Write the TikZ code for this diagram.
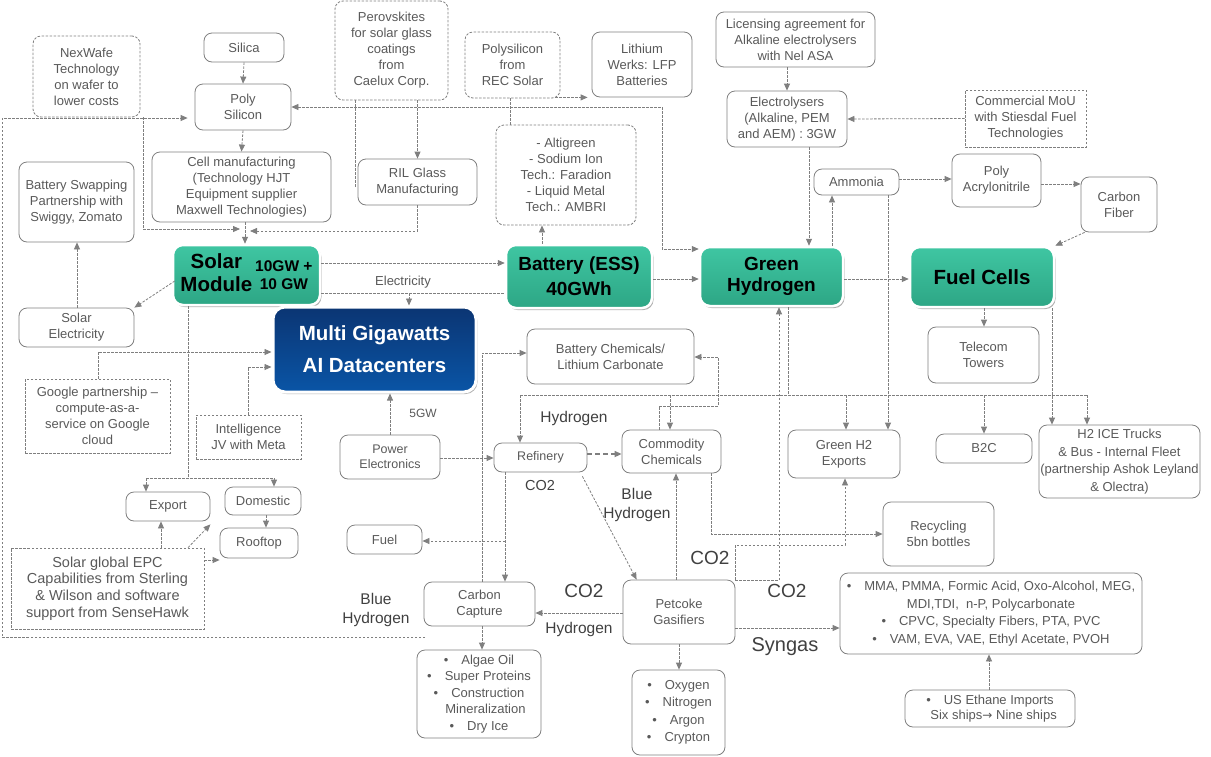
\documentclass[tikz,border=0pt]{standalone}
\usepackage{fontspec}
\setmainfont{Liberation Sans}
\newfontfamily\arrfont{DejaVu Sans}
\usetikzlibrary{arrows.meta,shadows}
\definecolor{bordc}{HTML}{7F7F7F}
\definecolor{txtc}{HTML}{595959}
\definecolor{lblc}{HTML}{404040}
\definecolor{lnc}{HTML}{7F7F7F}
\definecolor{gtop}{HTML}{3FC6A2}
\definecolor{gbot}{HTML}{2DA685}
\definecolor{btop}{HTML}{0B3573}
\definecolor{bbot}{HTML}{0A55A6}
\newcommand\fA{\fontsize{13}{16}\selectfont}
\newcommand\fE{\fontsize{14.5}{16.8}\selectfont}
\newcommand\fL{\fontsize{15.5}{19}\selectfont}
\newcommand\fC{\fontsize{19}{22}\selectfont}
\begin{document}
\begin{tikzpicture}[x=1pt,y=-1pt,
  sz/.style 2 args={minimum width=#1pt, minimum height=#2pt},
  box/.style={draw=bordc, line width=0.8pt, rounded corners=8pt, text=txtc, align=center, inner sep=0pt, font=\fA},
  dbox/.style={box, dash pattern=on 2.5pt off 1.5pt},
  rbox/.style={dbox, rounded corners=0pt},
  gbox/.style={draw=white, line width=2.5pt, rounded corners=10pt, top color=gtop, bottom color=gbot,
     drop shadow={shadow xshift=1.5pt, shadow yshift=-2pt, opacity=0.3, fill=black},
     align=center, inner sep=0pt, text=black},
  bluebox/.style={draw=white, line width=3pt, rounded corners=12pt, top color=btop, bottom color=bbot,
     drop shadow={shadow xshift=1.5pt, shadow yshift=-2pt, opacity=0.3, fill=black},
     align=center, inner sep=0pt, text=white},
  lbl/.style={text=lblc, align=center, inner sep=0pt},
  conn/.style={draw=lnc, line width=0.8pt, dash pattern=on 2.5pt off 1.5pt, -{Triangle[length=7pt,width=6pt]}},
  conntwo/.style={conn, {Triangle[length=7pt,width=6pt]}-{Triangle[length=7pt,width=6pt]}},
  dline/.style={draw=lnc, line width=0.8pt, dash pattern=on 2.5pt off 1.5pt},
  thickconn/.style={draw=lnc, line width=1.6pt, dash pattern=on 5pt off 3pt, -{Triangle[length=7pt,width=6pt]}}
]
\useasboundingbox (0,0) rectangle (1211,756);

% ---------- top area ----------
\node[dbox, sz={107}{81}] (nexwafe) at (86.5,76.5) {NexWafe\\Technology\\on wafer to\\lower costs};
\node[box, sz={80}{29}] (silica) at (244,47.5) {Silica};
\node[box, sz={96}{46}] (polysi) at (243,107) {Poly\\Silicon};
\node[box, sz={179}{70}] (cell) at (241.5,187) {Cell manufacturing\\(Technology HJT\\Equipment supplier\\Maxwell Technologies)};
\node[box, sz={115}{80}] (swap) at (76.5,202) {Battery Swapping\\Partnership with\\Swiggy, Zomato};
\node[dbox, sz={113}{99}] (perov) at (391.5,50.5) {Perovskites\\for solar glass\\coatings\\from\\Caelux Corp.};
\node[dbox, sz={95}{66}] (rec) at (512.5,65) {Polysilicon\\from\\REC Solar};
\node[box, sz={100}{65}] (lithium) at (642,64.5) {Lithium\\Werks: LFP\\Batteries};
\node[box, sz={119}{46}] (ril) at (417.5,182) {RIL Glass\\Manufacturing};
\node[dbox, sz={140}{100}] (alti) at (566,175) {- Altigreen\\- Sodium Ion\\Tech.: Faradion\\- Liquid Metal\\Tech.: AMBRI};
\node[box, sz={159}{55}] (lic) at (795.5,39.5) {Licensing agreement for\\Alkaline electrolysers\\with Nel ASA};
\node[box, sz={120}{56}] (elec) at (787,119) {Electrolysers\\(Alkaline, PEM\\and AEM) : 3GW};
\node[rbox, sz={121}{57}] (mou) at (1025.5,118.5) {Commercial MoU\\with Stiesdal Fuel\\Technologies};
\node[box, sz={85}{26}] (ammonia) at (856.5,182) {Ammonia};
\node[box, sz={89}{53}] (pan) at (996.5,180.5) {Poly\\Acrylonitrile};
\node[box, sz={76}{55}] (cfiber) at (1119,204.5) {Carbon\\Fiber};

% ---------- main row ----------
\node[gbox, sz={147}{60}] (solar) at (246.5,275) {\bfseries\fontsize{20.5}{23}\selectfont\begin{tabular}{@{}c@{}}Solar\\Module\end{tabular}\hspace{3pt}\fontsize{15.5}{18}\selectfont\begin{tabular}{@{}c@{}}10GW +\\10 GW\end{tabular}};
\node[gbox, sz={146}{63}, font=\bfseries\fontsize{19}{25}\selectfont] (battery) at (579,276.5) {Battery (ESS)\\40GWh};
\node[gbox, sz={143}{59}, font=\bfseries\fontsize{19}{21}\selectfont] (greenh) at (771.5,276.5) {Green\\Hydrogen};
\node[gbox, sz={144}{60}, font=\bfseries\fontsize{20.5}{24}\selectfont] (fuelc) at (982,277) {Fuel Cells};
\node[bluebox, sz={203}{85}, font=\bfseries\fontsize{20.5}{32}\selectfont] (dc) at (374.5,349.5) {Multi Gigawatts\\AI Datacenters};

% ---------- middle ----------
\node[box, sz={115}{39}] (solarel) at (76.5,327.5) {Solar\\Electricity};
\node[rbox, sz={145}{74}] (google) at (97.5,416) {Google partnership –\\compute-as-a-\\service on Google\\cloud};
\node[rbox, sz={105}{44}] (meta) at (248.5,437) {Intelligence\\JV with Meta};
\node[box, sz={167}{55}] (batchem) at (610.5,356.5) {Battery Chemicals/\\Lithium Carbonate};
\node[box, sz={111}{56}] (telecom) at (983.5,355) {Telecom\\Towers};
\node[box, sz={100}{44}, font=\fontsize{12.5}{15.5}\selectfont] (power) at (390,457) {Power\\Electronics};
\node[box, sz={93}{29}, font=\fontsize{12.5}{15.5}\selectfont] (refinery) at (540.5,457.5) {Refinery};
\node[box, sz={99}{43}] (commod) at (671.5,451.5) {Commodity\\Chemicals};
\node[box, sz={112}{48}] (gh2exp) at (844,454) {Green H2\\Exports};
\node[box, sz={96}{29}] (b2c) at (984,448.5) {B2C};
\node[box, sz={161}{73}, font=\fontsize{13}{17.5}\selectfont] (h2ice) at (1119.5,461.5) {H2 ICE Trucks\\ \& Bus - Internal Fleet\\(partnership Ashok Leyland\\ \& Olectra)};

% ---------- lower ----------
\node[box, sz={84}{29}] (export) at (168,506.5) {Export};
\node[box, sz={76}{28}] (domestic) at (263,501) {Domestic};
\node[box, sz={78}{30}] (rooftop) at (259,543) {Rooftop};
\node[rbox, sz={193}{81}, font=\fE] (epc) at (107.5,588.5) {Solar global EPC\\Capabilities from Sterling\\ \& Wilson and software\\support from SenseHawk};
\node[box, sz={75}{29}] (fuel) at (384.5,539.5) {Fuel};
\node[box, sz={111}{64}] (recyc) at (938.5,534) {Recycling\\5bn bottles};
\node[box, sz={111}{44}] (ccap) at (479.5,604) {Carbon\\Capture};
\node[box, sz={112}{64}] (petcoke) at (679,612) {Petcoke\\Gasifiers};
\node[box, sz={302}{81}, font=\fontsize{13}{17.5}\selectfont] (mma) at (991,613.5) {•\quad MMA, PMMA, Formic Acid, Oxo-Alcohol, MEG,\\MDI,TDI, \ n-P, Polycarbonate\\•\quad CPVC, Specialty Fibers, PTA, PVC\\•\quad VAM, EVA, VAE, Ethyl Acetate, PVOH};
\node[box, sz={124}{88}, font=\fontsize{13}{16.5}\selectfont] (algae) at (479,694) {•\quad Algae Oil\\•\quad Super Proteins\\•\quad Construction\\ \quad Mineralization\\•\quad Dry Ice};
\node[box, sz={93}{85}, font=\fontsize{13}{17.5}\selectfont] (oxygen) at (678.5,712.5) {•\quad Oxygen\\•\quad Nitrogen\\•\quad Argon\\•\quad Crypton};
\node[box, sz={170}{37}, font=\fontsize{13}{15}\selectfont] (ethane) at (990,708.5) {•\quad US Ethane Imports\\ \ \ Six ships{\arrfont\fontsize{12}{15}\selectfont →} Nine ships};

% ---------- labels ----------
\node[lbl, text=txtc, font=\fA] (lelec) at (403,282) {Electricity};
\node[lbl, text=txtc, font=\fontsize{12}{14}\selectfont] (l5gw) at (423,413) {5GW};
\node[lbl, font=\fL] (lhyd1) at (574,418) {Hydrogen};
\node[lbl, font=\fE] (lco2a) at (540,486) {CO2};
\node[lbl, font=\fL] (lbh1) at (637,505) {Blue\\Hydrogen};
\node[lbl, font=\fC] (lco2b) at (710,558) {CO2};
\node[lbl, font=\fC] (lco2c) at (584,591) {CO2};
\node[lbl, font=\fC] (lco2d) at (787,591) {CO2};
\node[lbl, font=\fL] (lhyd2) at (579,629) {Hydrogen};
\node[lbl, font=\fontsize{20}{22}\selectfont] (lsyn) at (785,647) {Syngas};
\node[lbl, font=\fL] (lbh2) at (376,610) {Blue\\Hydrogen};

% ---------- free coordinates ----------
\coordinate (bhend) at (425,637);
\coordinate (pvend) at (355,187);
\coordinate (mergeL) at (240,229);
\coordinate (mergeR) at (250,231);

% ---------- connectors: top ----------
\draw[conn] (silica.south) -- (polysi.north);
\draw[conn] (polysi.south) -- (cell.north);
\draw[conn] (245,0 |- cell.south) -- (245,0 |- solar.north);
\draw[conn] (143,0 |- nexwafe.south) |- (mergeL);
\draw[conn] (bhend) -- (2,637) -- (2,118) -- ([xshift=-7pt]polysi.west |- 0,118);
\draw[conn] (ril.south) |- (mergeR);
\draw[conn] (ril.north |- perov.south) -- (ril.north);
\draw[dline] (355,0 |- perov.south) -- (pvend);
\draw[conntwo] (polysi.east) -- (662,107) -- (662,249) -- (greenh.west |- 0,249);
\draw[dline] (510,0 |- rec.south) -- (510,0 |- alti.north);
\draw[conn] ([xshift=-5pt,yshift=1pt]rec.south east) -- ([xshift=-4pt]lithium.south west);
\draw[conn] (542,0 |- battery.north) -- (542,0 |- alti.south);
\draw[conn] (787,0 |- lic.south) -- (787,0 |- elec.north);
\draw[conn] (mou.west) -- (elec.east);
\draw[conn] (809,0 |- elec.south) -- (809,0 |- greenh.north);
\draw[conn] (832,0 |- greenh.north) -- (832,0 |- ammonia.south);
\draw[conn] (ammonia.east |- 0,179) -- (pan.west |- 0,179);
\draw[conn] (pan.east |- 0,184) -- (cfiber.west |- 0,184);
\draw[conn] ([xshift=4pt]cfiber.south west) -- (fuelc.north east);
\draw[conn] (888,0 |- ammonia.south) -- (888,0 |- gh2exp.north);

% ---------- connectors: main row ----------
\draw[conn] (solar.east |- 0,263) -- (battery.west |- 0,263);
\draw[dline] (solar.east |- 0,293) -- (battery.west |- 0,293);
\draw[conn] (409,293) -- (409,0 |- dc.north);
\draw[conn] (battery.east |- 0,279) -- (greenh.west |- 0,279);
\draw[conn] (greenh.east |- 0,279) -- (fuelc.west |- 0,279);
\draw[conn] (984,0 |- fuelc.south) -- (984,0 |- telecom.north);
\draw[conn] (1052,0 |- fuelc.south) -- (1052,0 |- h2ice.north);

% green hydrogen distribution bus
\draw[dline] (788,0 |- greenh.south) -- (788,395);
\draw[dline] (520,395) -- (1087,395);
\draw[conn] (520,395) -- (520,0 |- refinery.north);
\draw[conn] (670,395) -- (670,0 |- commod.north);
\draw[conn] (846,395) -- (846,0 |- gh2exp.north);
\draw[conn] (984,395) -- (984,0 |- b2c.north);
\draw[conn] (1087,395) -- (1087,0 |- h2ice.north);

% ---------- connectors: middle ----------
\draw[conn] (659,0 |- commod.north) -- (659,406) -- (718,406) -- (718,357) -- (batchem.east |- 0,357);
\draw[conn] (482,0 |- ccap.north) -- (482,353) -- (batchem.west |- 0,353);
\draw[conn] (power.east |- 0,458) -- (refinery.west |- 0,458);
\draw[conn] (390,0 |- power.north) -- (390,0 |- dc.south);
\draw[thickconn] (refinery.east |- 0,454) -- (commod.west |- 0,454);
\draw[conn] (505,0 |- refinery.south) -- (505,0 |- ccap.north);
\draw[conn] (505,541) -- (fuel.east |- 0,541);
\draw[conn] ([xshift=-5pt,yshift=-4pt]refinery.south east) -- ([xshift=14pt]petcoke.north west);
\draw[conn] (676,0 |- petcoke.north) -- (676,0 |- commod.south);
\draw[conn] (711,0 |- commod.south) |- (recyc.west);
\draw[conn] (petcoke.north east) |- (845,545) -- (845,0 |- gh2exp.south);
\draw[conn] ([yshift=-1pt]petcoke.north east) -| (779,0 |- greenh.south);
\draw[conn] (petcoke.east |- 0,628) -- (mma.west |- 0,628);
\draw[conn] (petcoke.west |- 0,613) -- (ccap.east |- 0,613);
\draw[conn] (482,0 |- ccap.south) -- (482,0 |- algae.north);
\draw[conn] (679,0 |- petcoke.south) -- (679,0 |- oxygen.north);
\draw[conn] (989,0 |- ethane.north) -- (989,0 |- mma.south);

% ---------- connectors: left ----------
\draw[conn] ([xshift=3pt,yshift=-6pt]solar.west) -- (solarel.north east);
\draw[conn] (77,0 |- solarel.north) -- (77,0 |- swap.south);
\draw[conn] (98,0 |- google.north) |- (dc.west |- 0,352);
\draw[conn] (248,0 |- meta.north) |- (dc.west |- 0,367);
\draw[dline] (188,0 |- solar.south) -- (188,478);
\draw[dline] (146,478) -- (274,478);
\draw[conn] (146,478) -- (146,0 |- export.north);
\draw[conn] (274,478) -- (274,0 |- domestic.north);
\draw[conn] (266,0 |- domestic.south) -- (266,0 |- rooftop.north);
\draw[conn] (161,0 |- epc.north) -- (161,0 |- export.south);
\draw[conn] (188,0 |- epc.north) -- ([yshift=-3pt]export.south east);
\draw[conn] (epc.east |- 0,560) -- (rooftop.west |- 0,560);
\end{tikzpicture}
\end{document}
